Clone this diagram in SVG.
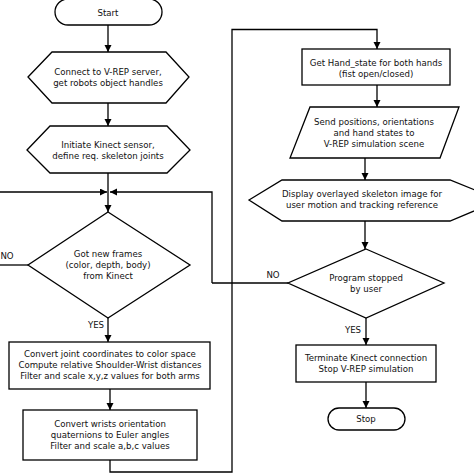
<svg xmlns="http://www.w3.org/2000/svg" width="474" height="474" viewBox="0 0 474 474">
<defs>
<marker id="ah" markerUnits="userSpaceOnUse" markerWidth="8" markerHeight="8" refX="7" refY="3.5" orient="auto">
<path d="M0,0 L7,3.5 L0,7 z" fill="#000"/>
</marker>
<style>
.s{fill:#fff;stroke:#000;stroke-width:1.3}
.c{fill:none;stroke:#000;stroke-width:1.3}
.a{fill:none;stroke:#000;stroke-width:1.3;marker-end:url(#ah)}
text{font-family:"DejaVu Sans",Verdana,sans-serif;font-size:8.6px;fill:#111;text-anchor:middle}
</style>
</defs>
<rect width="474" height="474" fill="#fff"/>
<g id="connectors">
<path class="a" d="M108,25 V52"/>
<path class="a" d="M108,103 V126"/>
<path class="c" d="M108,173 V192"/>
<path class="a" d="M-2,192 H107"/>
<path class="a" d="M212,283 V192 H110"/>
<path class="a" d="M108,192 V212"/>
<path class="c" d="M28,265 H-2"/>
<path class="a" d="M108,318 V342"/>
<path class="a" d="M110,389 V410"/>
<path class="a" d="M110,460 V472 H232 V29.5 H377 V49"/>
<path class="a" d="M377,85 V107"/>
<path class="a" d="M365,158 V180"/>
<path class="a" d="M365,221 V249"/>
<path class="c" d="M288,283 H212"/>
<path class="a" d="M366,318 V345"/>
<path class="a" d="M366,382 V408"/>
</g>
<g id="start"><rect class="s" x="55" y="-1" width="107" height="26" rx="13"/><text x="108" y="16">Start</text></g>
<g id="connect"><polygon class="s" points="28,77 52,52 166,52 189,77 166,103 52,103"/><text x="108" y="75">Connect to V-REP server,</text><text x="108" y="86">get robots object handles</text></g>
<g id="initiate"><polygon class="s" points="27,150 50,126 167,126 190,150 167,173 50,173"/><text x="108" y="148">Initiate Kinect sensor,</text><text x="108" y="158.5">define req. skeleton joints</text></g>
<g id="gotframes"><polygon class="s" points="108,212 190,265 108,318 28,265"/><text x="108" y="257">Got new frames</text><text x="108" y="268">(color, depth, body)</text><text x="108" y="279">from Kinect</text></g>
<text x="7" y="259">NO</text>
<text x="96" y="328">YES</text>
<g id="convertjoint"><rect class="s" x="9" y="342" width="201" height="47"/><text x="110" y="357">Convert joint coordinates to color space</text><text x="110" y="368">Compute relative Shoulder-Wrist distances</text><text x="110" y="379">Filter and scale x,y,z values for both arms</text></g>
<g id="convertwrists"><rect class="s" x="23" y="410" width="174" height="50"/><text x="110" y="427">Convert wrists orientation</text><text x="110" y="438">quaternions to Euler angles</text><text x="110" y="449">Filter and scale a,b,c values</text></g>
<g id="handstate"><rect class="s" x="302" y="49" width="148" height="36"/><text x="376" y="66">Get Hand_state for both hands</text><text x="376" y="76.5">(fist open/closed)</text></g>
<g id="send"><polygon class="s" points="310,107 459,107 440,158 290,158"/><text x="374" y="125">Send positions, orientations</text><text x="374" y="136">and hand states to</text><text x="374" y="147">V-REP simulation scene</text></g>
<g id="display"><polygon class="s" points="249,200 282,180 450,180 500,200 450,221 282,221"/><text x="362" y="197">Display overlayed skeleton image for</text><text x="362" y="208">user motion and tracking reference</text></g>
<g id="stopped"><polygon class="s" points="366,249 444,283 366,318 288,283"/><text x="366" y="281">Program stopped</text><text x="366" y="292">by user</text></g>
<text x="273" y="278">NO</text>
<text x="353" y="333">YES</text>
<g id="terminate"><rect class="s" x="296" y="345" width="140" height="37"/><text x="366" y="361">Terminate Kinect connection</text><text x="366" y="372">Stop V-REP simulation</text></g>
<g id="stop"><rect class="s" x="328" y="408" width="77" height="22" rx="11"/><text x="366" y="422">Stop</text></g>
</svg>
